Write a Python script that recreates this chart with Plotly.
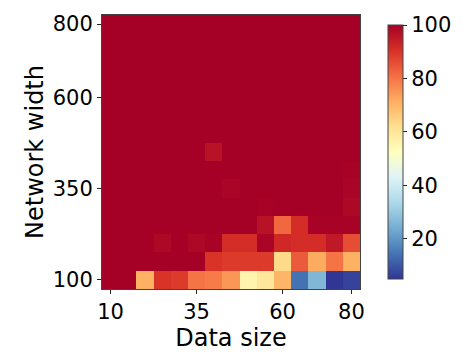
import plotly.graph_objects as go

data_size = [10, 15, 20, 25, 30, 35, 40, 45, 50, 55, 60, 65, 70, 75, 80]
network_width = [100, 150, 200, 250, 300, 350, 400, 450, 500, 550, 600, 650, 700, 750, 800]

acc_w100 = [100, 100, 71, 90, 89, 80, 79, 75, 56, 60, 70, 14, 26, 5, 7]
acc_w150 = [100, 100, 100, 100, 100, 100, 90, 89, 89, 89, 63, 84, 72, 80, 71]
acc_w200 = [100, 100, 100, 98.5, 100, 98.5, 99.5, 91, 91, 99, 92, 91, 91, 95, 86]
acc_w250 = [100, 100, 100, 100, 100, 100, 100, 100, 100, 96.5, 82, 91, 99.5, 99.5, 99.5]
acc_w300 = [100, 100, 100, 100, 100, 100, 100, 100, 100, 99.5, 100, 100, 100, 100, 98.5]
acc_w350 = [100, 100, 100, 100, 100, 100, 100, 99, 100, 100, 100, 100, 100, 100, 99]
acc_w400 = [100, 100, 100, 100, 100, 100, 100, 100, 100, 100, 100, 100, 100, 100, 99.5]
acc_w450 = [100, 100, 100, 100, 100, 100, 96.5, 100, 100, 100, 100, 100, 100, 100, 100]
acc_w500 = [100] * 15
acc_w550 = [100] * 15
acc_w600 = [100] * 15
acc_w650 = [100] * 15
acc_w700 = [100] * 15
acc_w750 = [100] * 15
acc_w800 = [100] * 15

z = [acc_w100, acc_w150, acc_w200, acc_w250, acc_w300, acc_w350, acc_w400,
     acc_w450, acc_w500, acc_w550, acc_w600, acc_w650, acc_w700, acc_w750, acc_w800]

x_ticks = [10, 35, 60, 80]
y_ticks = [100, 350, 600, 800]
cb_ticks = [20, 40, 60, 80, 100]

FONT = "DejaVu Sans"

fig = go.Figure(go.Heatmap(
    x=data_size, y=network_width, z=z,
    colorscale="RdYlBu", reversescale=True, zmin=5, zmax=100,
    colorbar=dict(
        x=1.068, xanchor="left", xref="paper",
        y=0.5, yanchor="middle", len=1.0, lenmode="fraction",
        thickness=15, outlinewidth=1, outlinecolor="#444",
        tickvals=cb_ticks, ticks="outside", ticklen=4, tickcolor="#222",
        tickfont=dict(family=FONT, size=21, color="black"),
    ),
    hoverongaps=False,
))

fig.update_layout(
    width=474, height=354,
    margin=dict(l=102, r=93, t=15, b=61),
    paper_bgcolor="white", plot_bgcolor="white",
    font=dict(family=FONT, color="black"),
    xaxis=dict(
        range=[7.5, 82.5], tickvals=x_ticks, ticks="outside", ticklen=4,
        tickcolor="#222", tickfont=dict(size=21),
        showline=True, linecolor="#444", linewidth=1, mirror=True,
        showgrid=False, zeroline=False,
        title=dict(text="Data size", font=dict(size=24), standoff=1),
    ),
    yaxis=dict(
        range=[75, 825], tickvals=y_ticks, ticks="outside", ticklen=4,
        tickcolor="#222", tickfont=dict(size=21),
        showline=True, linecolor="#444", linewidth=1, mirror=True,
        showgrid=False, zeroline=False,
        title=dict(text="Network width", font=dict(size=24), standoff=2),
    ),
)

fig.write_html("out.html")
